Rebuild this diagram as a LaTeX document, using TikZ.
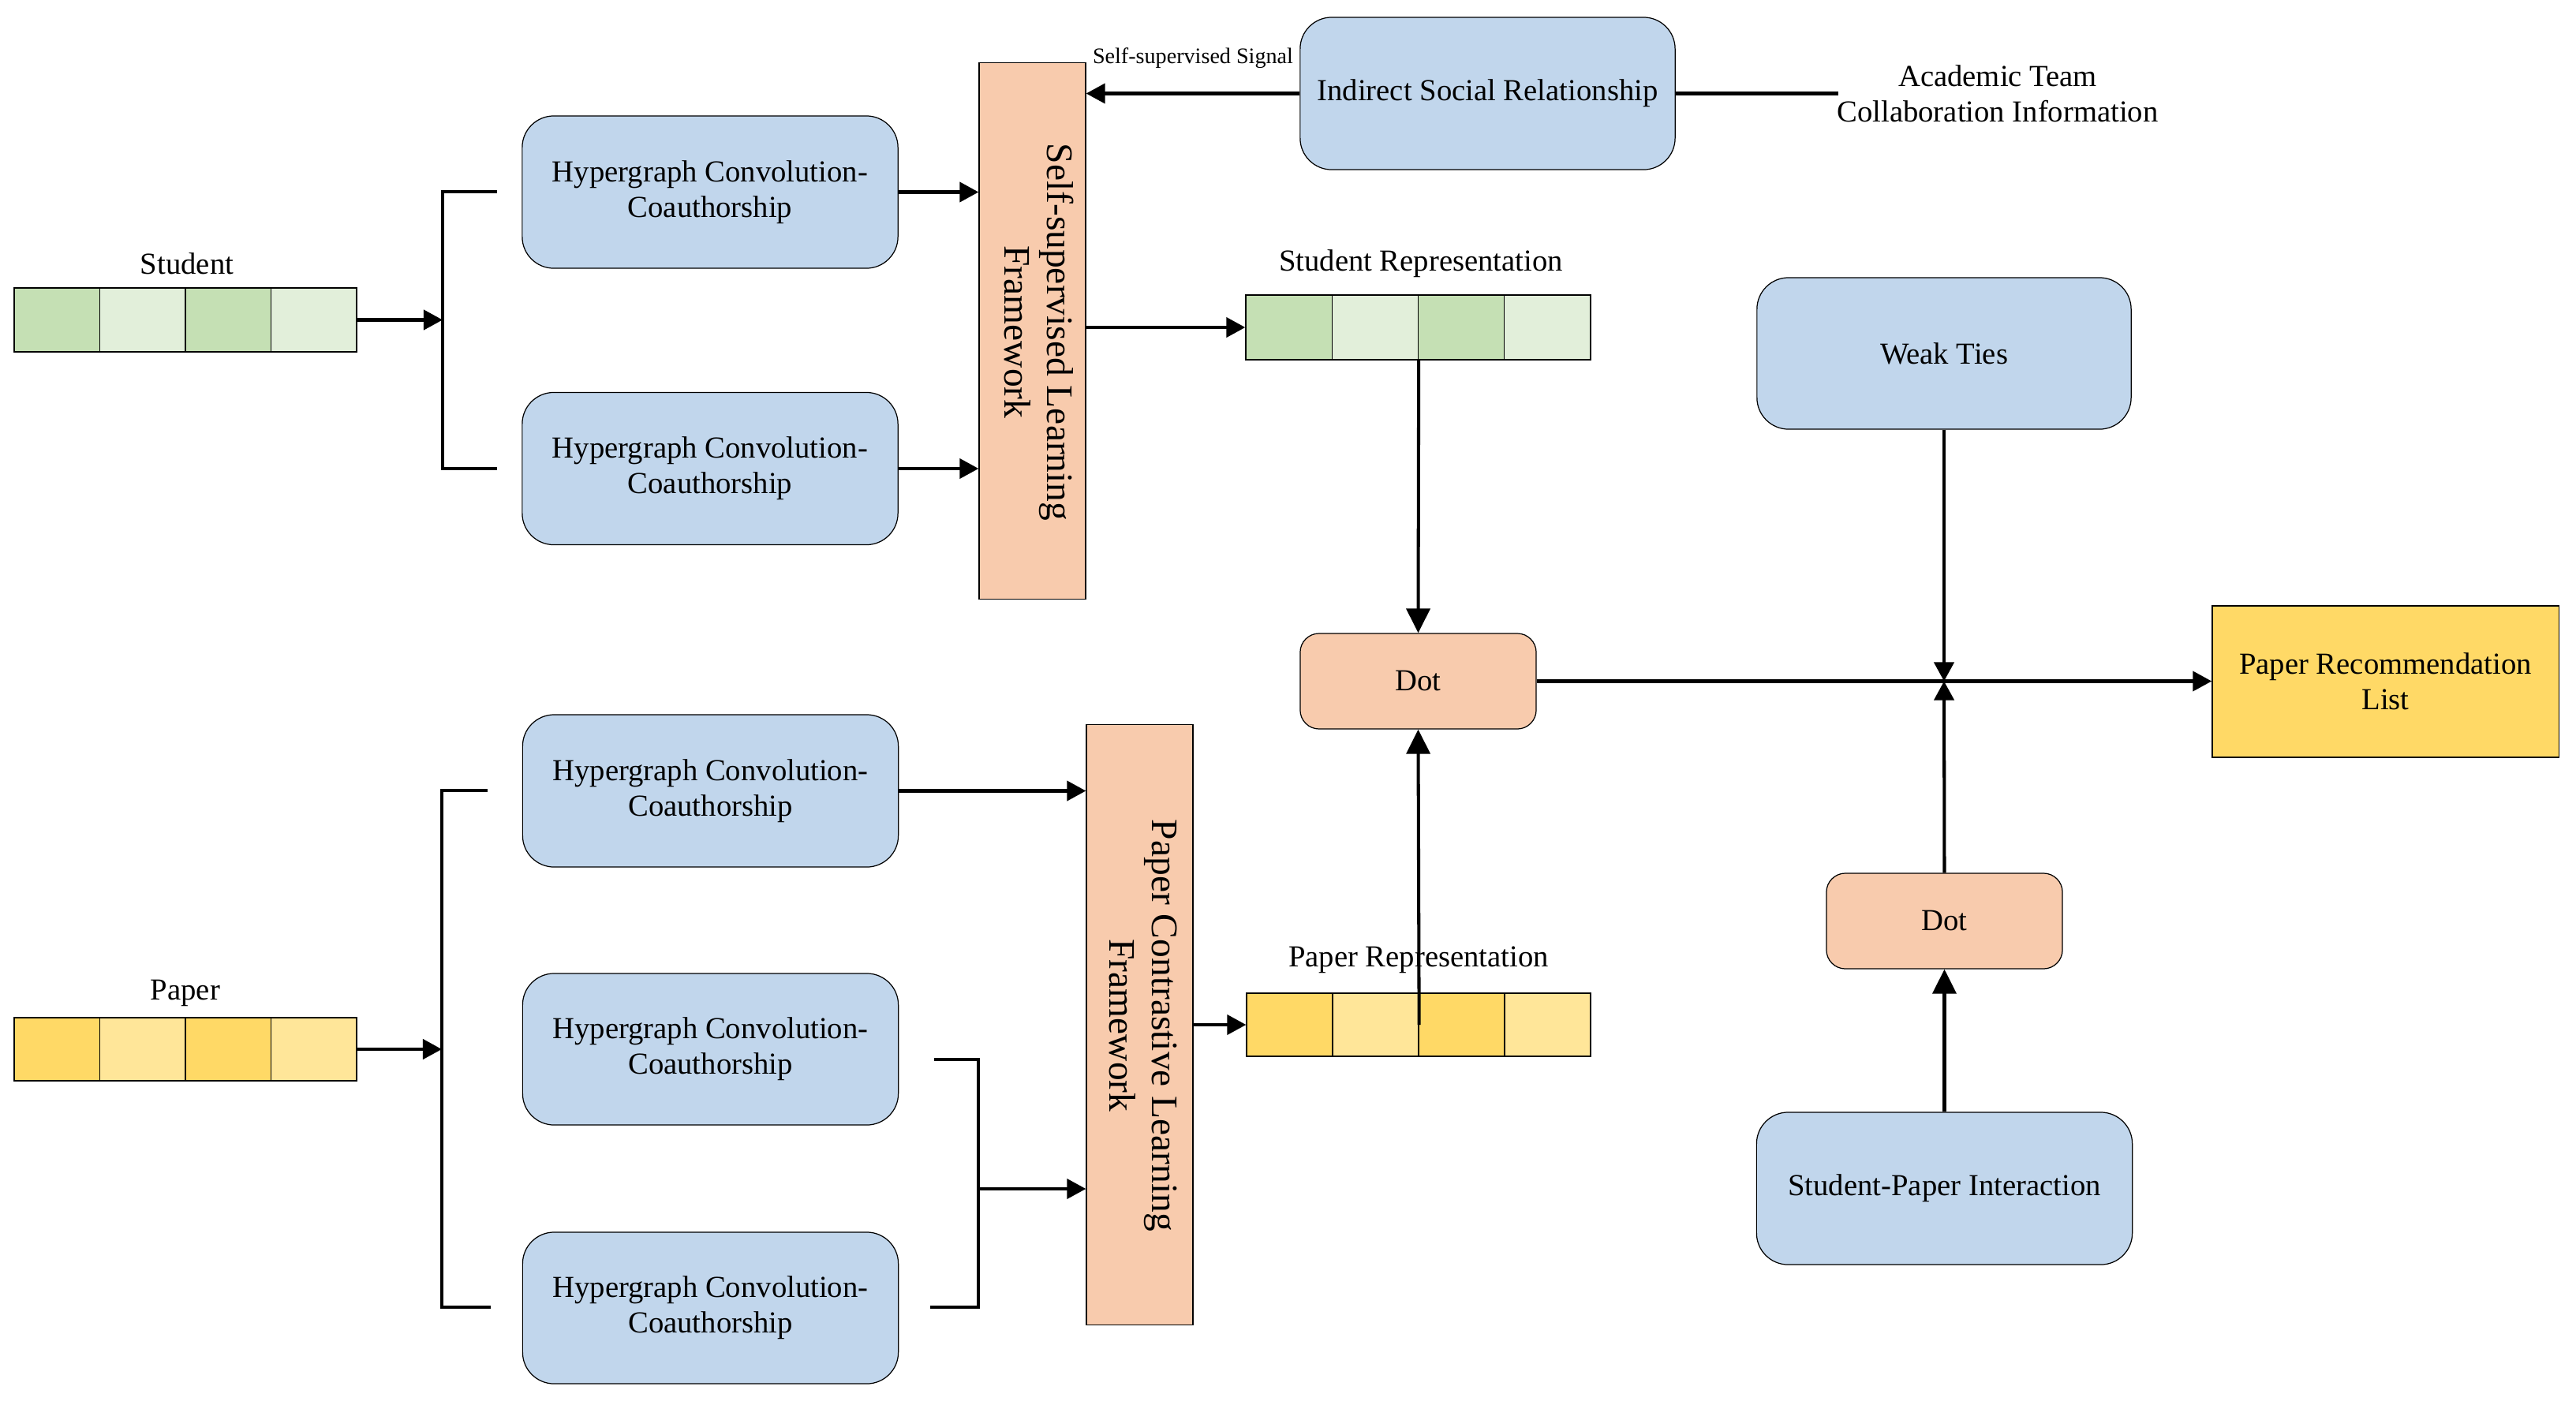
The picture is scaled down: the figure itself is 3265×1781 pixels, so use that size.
\documentclass[tikz,border=0pt]{standalone}
\usepackage{fontspec}
\setmainfont{Liberation Serif}
\usetikzlibrary{arrows.meta}
\definecolor{boxblue}{HTML}{C1D6EC}
\definecolor{boxorange}{HTML}{F8CBAD}
\definecolor{gdark}{HTML}{C5E0B4}
\definecolor{glight}{HTML}{E2EFDA}
\definecolor{ydark}{HTML}{FFD966}
\definecolor{ylight}{HTML}{FFE699}
\begin{document}
\begin{tikzpicture}[x=0.01cm,y=-0.01cm,
  every node/.style={font=\fontsize{11pt}{12.8pt}\selectfont, inner sep=0pt, align=center},
  bluebox/.style={draw=black, line width=0.35pt, fill=boxblue, rounded corners=0.4cm, minimum width=4.76cm, minimum height=1.93cm},
  dotbox/.style={draw=black, line width=0.35pt, fill=boxorange, rounded corners=0.24cm, minimum width=2.99cm, minimum height=1.21cm},
  framebox/.style={draw=black, line width=0.35pt, fill=boxorange, minimum width=1.35cm},
  cell/.style={draw=black, line width=0.35pt, minimum width=1.085cm, minimum height=0.81cm},
  conn/.style={line width=1.15pt},
  arr/.style={conn, -{Triangle[length=0.24cm,width=0.25cm]}},
  arrbig/.style={conn, -{Triangle[length=0.31cm,width=0.30cm]}},
  bigtext/.style={font=\fontsize{13.5pt}{15.4pt}\selectfont}
]
\useasboundingbox (0,0) rectangle (3265,1781);

% ---------- Student input bar ----------
\node (slbl) at (237,334) {Student};
\node[cell, fill=gdark]  (s1) at (72.25,405.5) {};
\node[cell, fill=glight] (s2) at (180.75,405.5) {};
\node[cell, fill=gdark]  (s3) at (289.25,405.5) {};
\node[cell, fill=glight] (s4) at (397.75,405.5) {};

% ---------- Student hypergraph boxes ----------
\node[bluebox] (h1) at (900,243.5) {Hypergraph Convolution-\\Coauthorship};
\node[bluebox] (h2) at (900,594) {Hypergraph Convolution-\\Coauthorship};

% bracket
\coordinate (sbt) at (561,243);
\coordinate (sbb) at (561,594);
\coordinate (sbt2) at (630,243);
\coordinate (sbb2) at (630,594);
\draw[conn] (sbt2) -- (sbt) -- (sbb) -- (sbb2);
\draw[arr] (s4.east) -- (s4.east -| sbt);

% ---------- Self-supervised framework ----------
\node[framebox, minimum height=6.79cm] (ssl) at (1308.5,419.5) {};
\node[bigtext, rotate=-90] (ssltxt) at (1317,421) {Self-supervised Learning\\Framework};
\draw[arr] (h1.east) -- (h1.east -| ssl.west);
\draw[arr] (h2.east) -- (h2.east -| ssl.west);

% ---------- Indirect social relationship ----------
\node[bluebox, minimum width=4.75cm] (isr) at (1885.5,118.5) {Indirect Social Relationship};
\draw[arr] (isr.west) -- (isr.west -| ssl.east);
\node[font=\fontsize{8pt}{9pt}\selectfont] (sig) at (1512,74) {Self-supervised Signal};
\coordinate (acend) at (2330,118.5);
\draw[conn] (isr.east) -- (acend);
\node (acad) at (2532,118.5) {Academic Team\\Collaboration Information};

% ---------- Student representation ----------
\node (srlbl) at (1801,334) {Student Representation};
\node[cell, fill=gdark,  minimum width=1.0925cm, minimum height=0.82cm] (sr1) at (1633.6,415) {};
\node[cell, fill=glight, minimum width=1.0925cm, minimum height=0.82cm] (sr2) at (1742.9,415) {};
\node[cell, fill=gdark,  minimum width=1.0925cm, minimum height=0.82cm] (sr3) at (1852.1,415) {};
\node[cell, fill=glight, minimum width=1.0925cm, minimum height=0.82cm] (sr4) at (1961.4,415) {};
\draw[arr] (ssl.east |- sr1.west) -- (sr1.west);

% ---------- Dot nodes ----------
\node[dotbox] (dot1) at (1797.5,863.5) {Dot};
\node[dotbox] (dot2) at (2464.5,1167.5) {Dot};
\draw[arrbig] (sr2.south east) -- (dot1.north);

% ---------- Weak ties / interaction / output ----------
\node[bluebox, minimum width=4.74cm, minimum height=1.92cm] (weak) at (2464,448) {Weak Ties};
\node[bluebox] (spi) at (2464.5,1506.5) {Student-Paper Interaction};
\node[draw=black, line width=0.35pt, fill=ydark, minimum width=4.39cm, minimum height=1.92cm] (prl) at (3023.5,864) {Paper Recommendation\\List};

\draw[arr] (dot1.east) -- (dot1.east -| prl.west);
\coordinate (cross) at (weak.south |- dot1.east);
\draw[arr] (weak.south) -- (cross);
\draw[arr] (dot2.north) -- (cross);
\draw[arrbig] (spi.north) -- (dot2.south);

% ---------- Paper input bar ----------
\node (plbl) at (235,1259) {Paper};
\node[cell, fill=ydark,  minimum height=0.80cm] (p1) at (72.25,1330) {};
\node[cell, fill=ylight, minimum height=0.80cm] (p2) at (180.75,1330) {};
\node[cell, fill=ydark,  minimum height=0.80cm] (p3) at (289.25,1330) {};
\node[cell, fill=ylight, minimum height=0.80cm] (p4) at (397.75,1330) {};

% ---------- Paper hypergraph boxes ----------
\node[bluebox] (h3) at (900.5,1002.5) {Hypergraph Convolution-\\Coauthorship};
\node[bluebox, minimum height=1.92cm] (h4) at (900.5,1330) {Hypergraph Convolution-\\Coauthorship};
\node[bluebox, minimum height=1.92cm] (h5) at (900.5,1658) {Hypergraph Convolution-\\Coauthorship};

% left bracket
\coordinate (pbt) at (560,1002);
\coordinate (pbb) at (560,1657);
\coordinate (pbt2) at (618,1002);
\coordinate (pbb2) at (622,1657);
\draw[conn] (pbt2) -- (pbt) -- (pbb) -- (pbb2);
\draw[arr] (p4.east) -- (p4.east -| pbt);

% ---------- Paper contrastive framework ----------
\node[framebox, minimum height=7.60cm] (pcl) at (1444.5,1299) {};
\node[bigtext, rotate=-90] (pcltxt) at (1449,1300) {Paper Contrastive Learning\\Framework};
\draw[arr] (h3.east) -- (h3.east -| pcl.west);

% right bracket
\coordinate (rbt1) at (1184,1343);
\coordinate (rbt) at (1240,1343);
\coordinate (rbb) at (1240,1657);
\coordinate (rbb1) at (1179,1657);
\coordinate (rbm) at (1240,1507);
\draw[conn] (rbt1) -- (rbt) -- (rbb) -- (rbb1);
\draw[arr] (rbm) -- (rbm -| pcl.west);

% ---------- Paper representation ----------
\node (prlbl) at (1798,1217) {Paper Representation};
\node[cell, fill=ydark,  minimum width=1.09cm, minimum height=0.80cm] (pr1) at (1634.5,1299) {};
\node[cell, fill=ylight, minimum width=1.09cm, minimum height=0.80cm] (pr2) at (1743.5,1299) {};
\node[cell, fill=ydark,  minimum width=1.09cm, minimum height=0.80cm] (pr3) at (1852.5,1299) {};
\node[cell, fill=ylight, minimum width=1.09cm, minimum height=0.80cm] (pr4) at (1961.5,1299) {};
\draw[arr] (pcl.east |- pr1.west) -- (pr1.west);
\draw[arrbig] (pr2.east) -- (dot1.south);
\end{tikzpicture}
\end{document}
